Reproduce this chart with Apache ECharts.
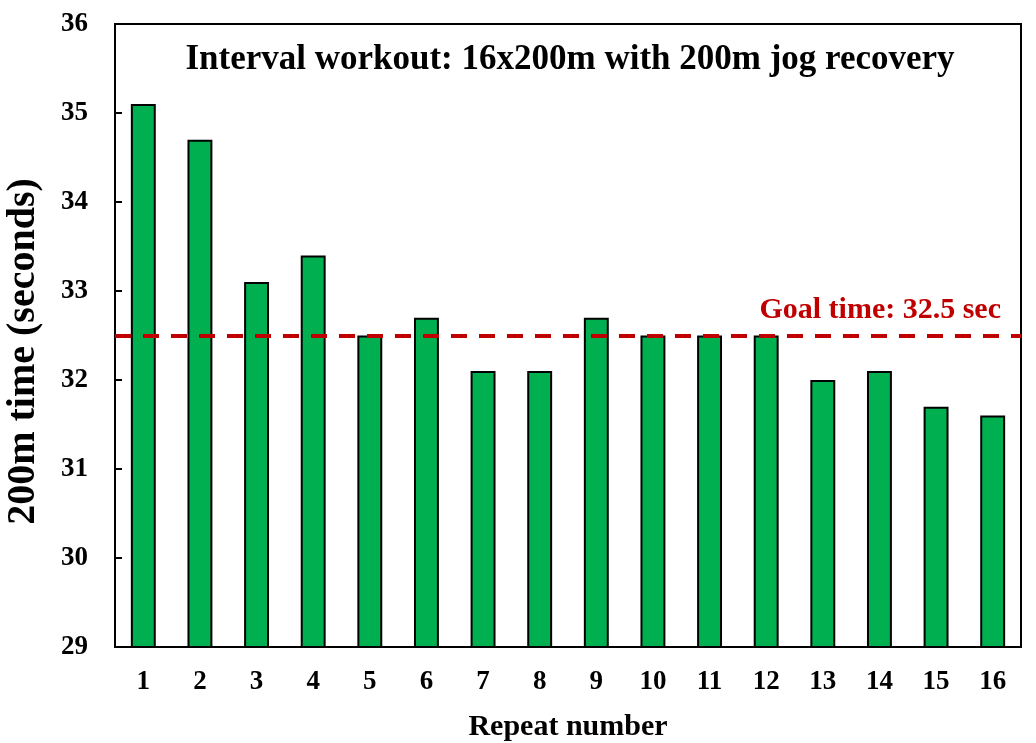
<!DOCTYPE html>
<html>
<head>
<meta charset="utf-8">
<script src="https://cdn.jsdelivr.net/npm/echarts@6/dist/echarts.min.js"></script>
<style>
  html, body { margin: 0; padding: 0; background: #fff; }
  #main { width: 1036px; height: 743px; }
</style>
</head>
<body>
<div id="main"></div>
<script>
// data
var repeats = ['1', '2', '3', '4', '5', '6', '7', '8', '9', '10', '11', '12', '13', '14', '15', '16'];
var times = [35.1, 34.7, 33.1, 33.4, 32.5, 32.7, 32.1, 32.1, 32.7, 32.5, 32.5, 32.5, 32.0, 32.1, 31.7, 31.6];
var goalTime = 32.5;
var yTicks = { min: 29, max: 36, interval: 1 };

var font = '"Liberation Serif", "DejaVu Serif", serif';

var myChart = echarts.init(document.getElementById('main'));

myChart.setOption({
  animation: false,
  title: {
    text: 'Interval workout: 16x200m with 200m jog recovery',
    left: 565,
    top: 37,
    textAlign: 'center',
    textStyle: { fontFamily: font, fontWeight: 'bold', fontSize: 35, color: '#000' }
  },
  grid: {
    left: 115, right: 15, top: 24, bottom: 96,
    outerBoundsMode: 'none',
    show: true, borderColor: '#000', borderWidth: 2
  },
  xAxis: {
    type: 'category',
    data: repeats,
    name: 'Repeat number',
    nameLocation: 'middle',
    nameGap: 65,
    nameTextStyle: { fontFamily: font, fontWeight: 'bold', fontSize: 30, color: '#000' },
    axisLine: { lineStyle: { color: '#000', width: 2 } },
    axisTick: { show: false },
    axisLabel: { fontFamily: font, fontWeight: 'bold', fontSize: 27, color: '#000', margin: 22 }
  },
  yAxis: {
    type: 'value',
    min: yTicks.min,
    max: yTicks.max,
    interval: yTicks.interval,
    name: '200m time (seconds)',
    nameLocation: 'middle',
    nameGap: 71,
    nameTextStyle: { fontFamily: font, fontWeight: 'bold', fontSize: 40, color: '#000', padding: [0, 32, 0, 0] },
    axisLine: { show: true, lineStyle: { color: '#000', width: 2 } },
    axisTick: { show: true, inside: true, length: 7, lineStyle: { color: '#000', width: 2 } },
    splitLine: { show: false },
    axisLabel: { fontFamily: font, fontWeight: 'bold', fontSize: 27, color: '#000', margin: 27 }
  },
  series: [{
    type: 'bar',
    data: times,
    barWidth: '44%',
    itemStyle: { color: '#00B050', borderColor: '#000', borderWidth: 2 },
    markLine: {
      symbol: 'none',
      silent: true,
      lineStyle: { color: '#C00000', type: [16, 12], width: 4 },
      label: {
        position: 'insideEndTop',
        formatter: 'Goal time: ' + goalTime + ' sec',
        fontFamily: font, fontWeight: 'bold', fontSize: 30, color: '#C00000',
        distance: [20, 10]
      },
      data: [{ yAxis: goalTime }]
    }
  }]
});
</script>
</body>
</html>
